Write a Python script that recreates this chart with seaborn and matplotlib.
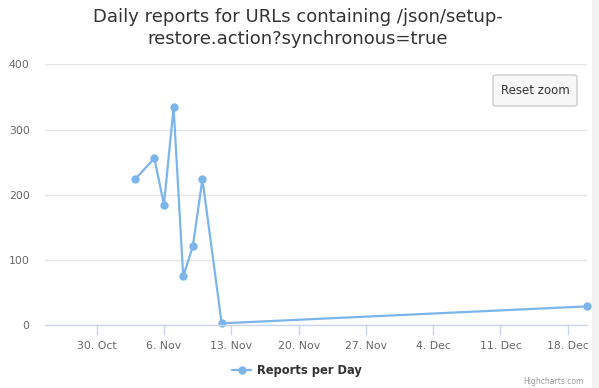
import matplotlib
matplotlib.use("Agg")
import matplotlib.pyplot as plt
import matplotlib.dates as mdates
from matplotlib.patches import FancyBboxPatch, Rectangle
from matplotlib.lines import Line2D
import seaborn as sns
import pandas as pd

# ---- data ----
dates = ["2017-11-03", "2017-11-05", "2017-11-06", "2017-11-07", "2017-11-08",
         "2017-11-09", "2017-11-10", "2017-11-12", "2017-12-20"]
reports = [224, 256, 185, 334, 75, 121, 224, 3, 29]
series_name = "Reports per Day"
title = "Daily reports for URLs containing /json/setup-\nrestore.action?synchronous=true"
y_ticks = [0, 100, 200, 300, 400]

df = pd.DataFrame({"date": pd.to_datetime(dates), "value": reports})

sns.set_theme(style="white")
plt.rcParams["font.family"] = ["DejaVu Sans"]

W, H = 599, 388
fig = plt.figure(figsize=(W / 100, H / 100), dpi=100)
ax = fig.add_axes([45 / W, 1 - 325.3 / H, (587 - 45) / W, (325.3 - 64.3) / H])

color = "#7cb5ec"
sns.lineplot(data=df, x="date", y="value", ax=ax, color=color, linewidth=1.6,
             marker="o", markersize=6, markeredgewidth=0, clip_on=False)

ax.set_xlim(pd.Timestamp("2017-10-24 15:00"), pd.Timestamp("2017-12-20"))
ax.set_ylim(0, 400)
ax.set_yticks(y_ticks)
ax.set_yticklabels([str(v) for v in y_ticks])
ax.xaxis.set_major_locator(mdates.WeekdayLocator(byweekday=mdates.MO))
ax.xaxis.set_major_formatter(mdates.DateFormatter("%-d. %b"))

ax.grid(axis="y", color="#e6e6e6", linewidth=1)
ax.grid(axis="x", visible=False)
ax.set_axisbelow(True)
for s in ["top", "right", "left"]:
    ax.spines[s].set_visible(False)
ax.spines["bottom"].set_color("#ccd6eb")
ax.spines["bottom"].set_linewidth(1)
ax.tick_params(axis="x", length=7, width=1, color="#ccd6eb", labelcolor="#666666",
               labelsize=7.8, pad=4, bottom=True)
ax.tick_params(axis="y", length=0, labelcolor="#666666", labelsize=7.8, pad=11)
ax.set_xlabel("")
ax.set_ylabel("")
for lbl in ax.get_yticklabels():
    lbl.set_horizontalalignment("right")

fig.text(298 / W, 1 - 28 / H, title, ha="center", va="center", fontsize=13,
         color="#333333", linespacing=1.25)

# Legend
leg_handle = Line2D([], [], color=color, linewidth=1.6, marker="o", markersize=6,
                    markeredgewidth=0)
fig.legend([leg_handle], [series_name], loc="center", bbox_to_anchor=(297 / W, 1 - 370.5 / H),
           frameon=False, prop={"weight": "bold", "size": 8.3}, labelcolor="#333333",
           handlelength=1.6, handletextpad=0.5)

# Reset zoom button
btn = FancyBboxPatch((493 / W, 1 - 106 / H), (577 - 493) / W, (106 - 75) / H,
                     boxstyle="round,pad=0,rounding_size=0.005", transform=fig.transFigure,
                     facecolor="#f7f7f7", edgecolor="#cccccc", linewidth=1)
fig.patches.append(btn)
fig.text(535 / W, 1 - 90.5 / H, "Reset zoom", ha="center", va="center", fontsize=8.5,
         color="#333333")

# right-side strip
fig.patches.append(Rectangle((592 / W, 0), 7 / W, 1, transform=fig.transFigure,
                             facecolor="#f2f2f2", edgecolor="none"))
fig.text(523 / W, 0.004, "Highcharts.com", ha="left", va="bottom", fontsize=5.5,
         color="#999999")

fig.savefig("out.png", dpi=100)
